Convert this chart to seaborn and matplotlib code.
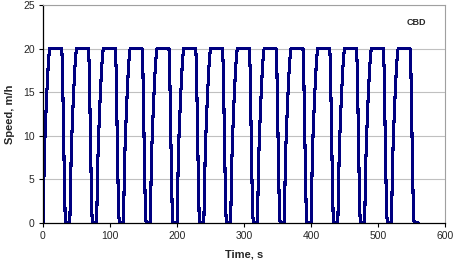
import matplotlib
matplotlib.use("Agg")
import matplotlib.pyplot as plt
import numpy as np
import pandas as pd
import seaborn as sns

# one CBD cycle (40 s long), speed in m/h
cycle_time = [0, 1, 2, 3, 4, 5, 6, 7, 8, 9, 10, 28, 29, 30, 31, 32, 33, 34]
cycle_speed = [0, 4, 7.5, 10, 12, 13.8, 15.4, 17, 18.3, 19.3, 20, 20, 18, 13.5, 9, 4.5, 1, 0]
cycle_length = 40
n_cycles = 14
end_time = 560

x_ticks = [0, 100, 200, 300, 400, 500, 600]
y_ticks = [0, 5, 10, 15, 20, 25]

# 14 identical repeats of the cycle, then idle to the end
times = []
speeds = []
for k in range(n_cycles):
    times += [t + k * cycle_length for t in cycle_time]
    speeds += cycle_speed
times.append(end_time)
speeds.append(0)
df = pd.DataFrame({"Time": times, "Speed": speeds})

sns.set_style("white")
plt.rcParams["font.family"] = ["Liberation Sans", "DejaVu Sans"]

fig = plt.figure(figsize=(4.55, 2.70), dpi=100)
ax = fig.add_axes([43 / 455, 1 - 223 / 270, 402 / 455, 218 / 270])

for y in y_ticks[1:]:
    ax.axhline(y, color="#c0c0c0", lw=0.8, zorder=0)

sns.lineplot(data=df, x="Time", y="Speed", color="#000080", lw=1.5,
             estimator=None, sort=False, antialiased=False, ax=ax)

ax.set_xlim(0, 600)
ax.set_ylim(0, 25)
ax.set_xticks(x_ticks)
ax.set_yticks(y_ticks)
ax.tick_params(axis="both", direction="out", length=3, width=0.8, color="black",
               labelsize=7.5, pad=3, bottom=True, left=True)

for side in ["left", "bottom"]:
    ax.spines[side].set_color("black")
    ax.spines[side].set_linewidth(0.9)
for side in ["top", "right"]:
    ax.spines[side].set_visible(True)
    ax.spines[side].set_color("#a0a0a0")
    ax.spines[side].set_linewidth(0.8)

ax.set_xlabel("Time, s", fontsize=8, fontweight="bold", labelpad=6)
ax.set_ylabel("Speed, m/h", fontsize=8, fontweight="bold", labelpad=6)
ax.text(0.93, 0.92, "CBD", transform=ax.transAxes, fontsize=6.5,
        fontweight="bold", ha="center", va="center")

fig.savefig("out.png", dpi=100)
